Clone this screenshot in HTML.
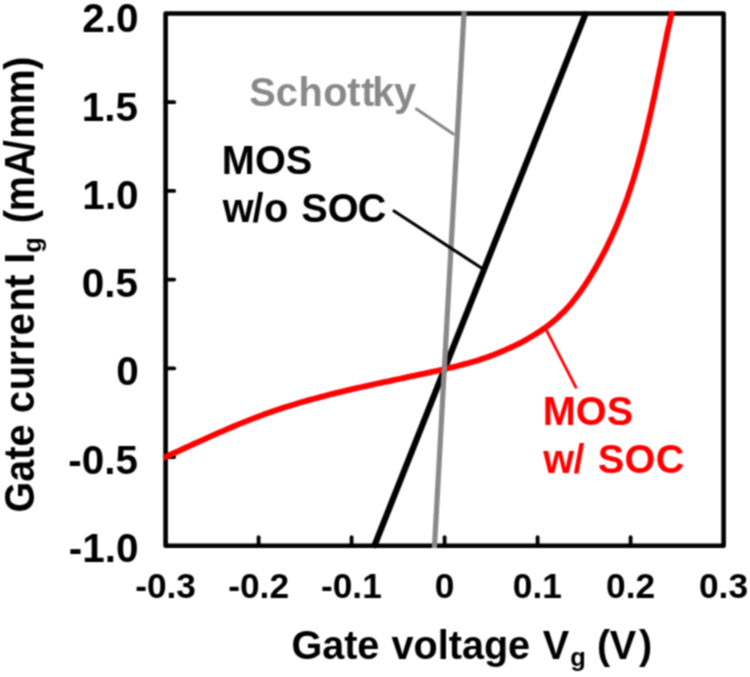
<!DOCTYPE html><html><head><meta charset="utf-8"><style>html,body{margin:0;padding:0;background:#fff;overflow:hidden}svg{display:block}text{font-family:"Liberation Sans",Arial,sans-serif;font-weight:bold;font-kerning:none}</style></head><body>
<svg width="750" height="677" viewBox="0 0 750 677">
<defs><filter id="soft" filterUnits="userSpaceOnUse" x="0" y="0" width="750" height="677" color-interpolation-filters="sRGB"><feConvolveMatrix order="3" kernelMatrix="1 2 1 2 4 2 1 2 1" divisor="16" edgeMode="duplicate"/></filter></defs>
<g filter="url(#soft)">
<rect width="750" height="677" fill="#fff"/>
<rect x="165.6" y="13.5" width="558.0" height="532.3" fill="none" stroke="#000" stroke-width="4.6" stroke-linejoin="round"/>
<line x1="165.6" y1="102.2" x2="174.2" y2="102.2" stroke="#000" stroke-width="3.8" stroke-linecap="round"/>
<line x1="165.6" y1="190.9" x2="174.2" y2="190.9" stroke="#000" stroke-width="3.8" stroke-linecap="round"/>
<line x1="165.6" y1="279.6" x2="174.2" y2="279.6" stroke="#000" stroke-width="3.8" stroke-linecap="round"/>
<line x1="165.6" y1="368.4" x2="174.2" y2="368.4" stroke="#000" stroke-width="3.8" stroke-linecap="round"/>
<line x1="165.6" y1="457.1" x2="174.2" y2="457.1" stroke="#000" stroke-width="3.8" stroke-linecap="round"/>
<line x1="258.6" y1="545.8" x2="258.6" y2="537.2" stroke="#000" stroke-width="3.8" stroke-linecap="round"/>
<line x1="351.6" y1="545.8" x2="351.6" y2="537.2" stroke="#000" stroke-width="3.8" stroke-linecap="round"/>
<line x1="444.6" y1="545.8" x2="444.6" y2="537.2" stroke="#000" stroke-width="3.8" stroke-linecap="round"/>
<line x1="537.6" y1="545.8" x2="537.6" y2="537.2" stroke="#000" stroke-width="3.8" stroke-linecap="round"/>
<line x1="630.6" y1="545.8" x2="630.6" y2="537.2" stroke="#000" stroke-width="3.8" stroke-linecap="round"/>
<defs><clipPath id="c"><rect x="163.8" y="11.2" width="570" height="537"/></clipPath></defs>
<g clip-path="url(#c)">
<line x1="373.4" y1="548.3" x2="586.6" y2="11.0" stroke="#000" stroke-width="6.2"/>
<polyline points="160.8,459.1 164.4,457.5 169.2,455.2 174.1,453.0 178.9,450.8 183.8,448.5 188.7,446.3 193.6,444.0 198.5,441.8 203.5,439.6 208.4,437.3 213.4,435.1 218.3,432.9 223.3,430.8 228.3,428.6 233.3,426.5 238.4,424.4 243.4,422.4 248.4,420.4 253.5,418.4 258.6,416.5 263.6,414.6 268.7,412.8 273.8,411.0 278.9,409.3 284.0,407.6 289.2,406.0 294.3,404.4 299.4,402.8 304.6,401.4 309.7,399.9 314.9,398.5 320.1,397.1 325.3,395.7 330.5,394.4 335.7,393.1 340.9,391.9 346.1,390.6 351.3,389.4 356.6,388.2 361.8,387.0 367.1,385.8 372.4,384.7 377.6,383.5 382.9,382.4 388.2,381.3 393.5,380.1 398.8,379.0 404.2,377.9 409.5,376.7 414.8,375.6 420.2,374.4 425.5,373.3 430.8,372.1 436.2,371.0 441.5,369.8 446.8,368.5 452.1,367.3 457.4,366.0 462.6,364.6 467.8,363.2 473.0,361.8 478.2,360.3 483.3,358.5 488.4,356.8 493.4,354.9 498.4,352.8 503.3,350.8 508.2,348.6 513.0,346.5 517.8,344.2 522.5,341.8 527.1,339.2 531.6,336.6 536.1,333.8 540.5,331.0 544.8,328.0 549.0,324.9 553.1,321.6 557.1,318.1 560.9,314.4 564.7,310.8 568.3,306.9 571.8,302.8 575.2,298.5 578.6,294.1 581.8,289.6 584.9,285.1 587.9,280.5 590.9,275.7 593.7,271.0 596.5,266.2 599.1,261.5 601.7,256.7 604.3,251.8 606.7,247.1 609.1,242.1 611.4,237.3 613.6,232.4 615.8,227.5 617.9,222.5 619.9,217.5 621.9,212.5 623.8,207.5 625.7,202.4 627.5,197.4 629.2,192.2 630.9,187.1 632.6,182.0 634.2,176.8 635.7,171.6 637.3,166.4 638.7,161.2 640.2,155.9 641.6,150.7 642.9,145.4 644.3,140.2 645.6,134.9 646.8,129.6 648.1,124.3 649.3,119.0 650.5,113.7 651.7,108.4 652.8,103.1 654.0,97.8 655.1,92.4 656.2,87.1 657.3,81.8 658.4,76.5 659.5,71.2 660.6,66.0 661.6,60.7 662.7,55.4 663.8,50.1 664.9,44.9 666.0,39.7 667.0,34.4 668.1,29.2 669.3,24.1 670.4,18.9 671.5,13.7 672.4,9.8" fill="none" stroke="#ff0000" stroke-width="5.8" stroke-linejoin="round"/>
<line x1="434.4" y1="548.1999999999999" x2="464.1" y2="11.2" stroke="#898989" stroke-width="5.2"/>
</g>
<line x1="394" y1="211" x2="483" y2="269" stroke="#000" stroke-width="3.1" stroke-linecap="round"/>
<line x1="416.5" y1="109" x2="453.3" y2="134" stroke="#898989" stroke-width="3.1" stroke-linecap="round"/>
<line x1="546" y1="329.3" x2="575.9" y2="387.4" stroke="#ff0000" stroke-width="2.8" stroke-linecap="round"/>
<text transform="translate(82.36 32.30) scale(1 1.02)" font-size="40.5">2.0</text>
<text transform="translate(81.83 120.55) scale(1 1.02)" font-size="40.5">1.5</text>
<text transform="translate(82.36 208.80) scale(1 1.02)" font-size="40.5">1.0</text>
<text transform="translate(81.83 297.05) scale(1 1.02)" font-size="40.5">0.5</text>
<text transform="translate(116.14 385.30) scale(1 1.02)" font-size="40.5">0</text>
<text transform="translate(68.34 473.55) scale(1 1.02)" font-size="40.5">-0.5</text>
<text transform="translate(68.87 561.80) scale(1 1.02)" font-size="40.5">-1.0</text>
<text transform="translate(135.13 598.2) scale(1 1.02)" font-size="35.3">-0.3</text>
<text transform="translate(228.20 598.2) scale(1 1.02)" font-size="35.3">-0.2</text>
<text transform="translate(320.99 598.2) scale(1 1.02)" font-size="35.3">-0.1</text>
<text transform="translate(434.81 598.2) scale(1 1.02)" font-size="35.3">0</text>
<text transform="translate(512.86 598.2) scale(1 1.02)" font-size="35.3">0.1</text>
<text transform="translate(606.07 598.2) scale(1 1.02)" font-size="35.3">0.2</text>
<text transform="translate(699.00 598.2) scale(1 1.02)" font-size="35.3">0.3</text>
<text transform="translate(291.38 659.10) scale(1 1.04)" x="0" y="0" font-size="39.6">Gate</text>
<text transform="translate(391.55 659.10) scale(1 1.04)" x="0" y="0" font-size="39.6">voltage</text>
<text transform="translate(542.73 659.10) scale(1 1.04)" x="0" y="0" font-size="39.6">V</text>
<text transform="translate(570.35 666.30) scale(1 1.02)" x="0" y="0" font-size="25.5">g</text>
<text transform="translate(596.93 659.10) scale(1 1.04)" x="0.00 12.90 42.03" y="0" font-size="39.6">(V)</text>
<text transform="rotate(-90) scale(1 1.05)" x="-512.62 -481.82 -459.80 -446.61" y="32.19" font-size="39.6">Gate</text>
<text transform="rotate(-90) scale(1 1.05)" x="-412.95 -390.36 -366.61 -350.51 -335.25 -311.51 -287.78" y="32.19" font-size="39.6">current</text>
<text transform="rotate(-90) scale(1 1.05)" x="-263.65" y="32.19" font-size="39.6">I</text>
<text transform="rotate(-90)" x="-252.75" y="40.90" font-size="25.5">g</text>
<text transform="rotate(-90) scale(1 1.05)" x="-223.27 -211.31 -176.49 -151.09 -138.81 -104.61 -69.84" y="32.19" font-size="39.6">(mA/mm)</text>
<text transform="translate(249.26 106.10) scale(1 1.04)" x="0.00 26.59 49.37 73.99 98.06 112.06 122.97 144.73" y="0" font-size="39.7" fill="#898989">Schottky</text>
<text transform="translate(221.84 174.20) scale(1 1.04)" x="0" y="0" font-size="39.7">MOS</text>
<text transform="translate(222.72 222.40) scale(1 1.04)" x="0.00 29.70 41.33 65.58 78.54 105.06 135.06" y="0" font-size="39.7">w/o SOC</text>
<text transform="translate(542.74 424.80) scale(1 1.04)" x="0" y="0" font-size="39.7" fill="#ff0000">MOS</text>
<text transform="translate(543.32 473.00) scale(1 1.04)" x="0.00 30.30 41.33 54.44 81.26 112.36" y="0" font-size="39.7" fill="#ff0000">w/ SOC</text>
</g></svg></body></html>
